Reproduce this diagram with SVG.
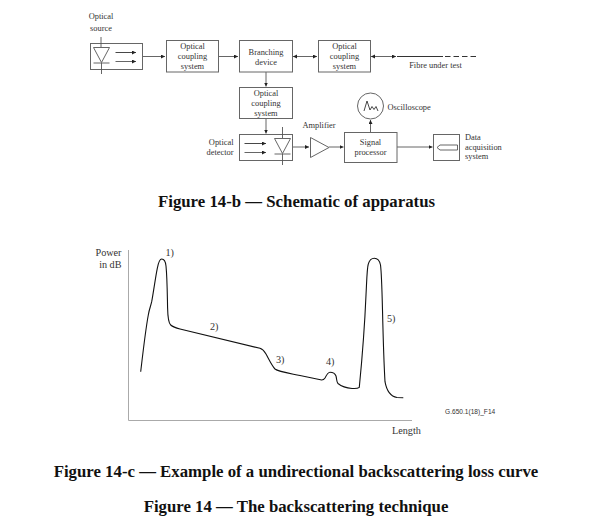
<svg xmlns="http://www.w3.org/2000/svg" width="600" height="525" viewBox="0 0 600 525">
<style>
text{font-family:"Liberation Serif","Times New Roman",serif;fill:#333}
.s{font-size:8.4px}
.c{text-anchor:middle}
.e{text-anchor:end}
.cap{font-size:16.8px;font-weight:bold;text-anchor:middle;fill:#111}
.box{fill:#fff;stroke:#666;stroke-width:1}
.ln{fill:none;stroke:#555;stroke-width:.9}
.th{fill:none;stroke:#333;stroke-width:.9}
.ax{fill:none;stroke:#aaa;stroke-width:1}
.cv{fill:none;stroke:#111;stroke-width:1.1;stroke-linejoin:round}
.l{font-size:10.2px}
</style>
<defs>
<marker id="a" markerUnits="userSpaceOnUse" markerWidth="5" markerHeight="5" refX="4" refY="2" orient="auto-start-reverse"><path d="M0,0L4,2L0,4Z" fill="#222"/></marker>
</defs>
<rect width="600" height="525" fill="#fff"/>
<g id="connectors">
<path class="ln" d="M143,56.5H165" marker-end="url(#a)"/>
<path class="ln" d="M218.500,56.500H238" marker-end="url(#a)"/>
<path class="ln" d="M293,56.500H317" marker-start="url(#a)" marker-end="url(#a)"/>
<path class="ln" d="M371,56.500H396" marker-start="url(#a)" marker-end="url(#a)"/>
<path d="M397,56.500H443" fill="none" stroke="#333" stroke-width="1"/>
<path d="M445,56.500H476" fill="none" stroke="#333" stroke-width="1" stroke-dasharray="5.500 3"/>
<path class="ln" d="M266,72V86.500" marker-end="url(#a)"/>
<path class="ln" d="M266,119V133.500" marker-end="url(#a)"/>
<path class="ln" d="M293,147H309" marker-end="url(#a)"/>
<path class="ln" d="M329,147H343.500" marker-end="url(#a)"/>
<path class="ln" d="M370.500,132V120" marker-end="url(#a)"/>
<path class="ln" d="M397,147H432.500" marker-end="url(#a)"/>
</g>
<g id="optical-source">
<rect class="box" x="90.500" y="43.500" width="52" height="26"/>
<path class="ln" d="M101,37V47M93.500,47.500H109.500L101.500,62.500ZM93.500,63H109.500M101.500,63V74"/>
<path class="th" d="M115.500,52.500H136" marker-end="url(#a)"/>
<path class="ln" d="M115.500,61.500H136" marker-end="url(#a)"/>
<text class="s c" x="101" y="19">Optical</text>
<text class="s c" x="101" y="31">source</text>
</g>
<g id="coupling-1">
<rect class="box" x="166.500" y="40.500" width="52" height="31.500"/>
<text class="s c" x="192.500" y="49">Optical</text>
<text class="s c" x="192.500" y="59">coupling</text>
<text class="s c" x="192.500" y="68.500">system</text>
</g>
<g id="branching-device">
<rect class="box" x="239.500" y="40.500" width="53" height="31.500"/>
<text class="s c" x="266" y="55">Branching</text>
<text class="s c" x="266" y="64.500">device</text>
</g>
<g id="coupling-3">
<rect class="box" x="318.500" y="40.500" width="52" height="31.500"/>
<text class="s c" x="344.500" y="49">Optical</text>
<text class="s c" x="344.500" y="59">coupling</text>
<text class="s c" x="344.500" y="68.500">system</text>
</g>
<g id="fibre-label"><text class="s c" x="435.500" y="68">Fibre under test</text></g>
<g id="coupling-2">
<rect class="box" x="239.500" y="87.500" width="53" height="31"/>
<text class="s c" x="266" y="96">Optical</text>
<text class="s c" x="266" y="106">coupling</text>
<text class="s c" x="266" y="115.500">system</text>
</g>
<g id="optical-detector">
<rect class="box" x="239.500" y="134.500" width="53" height="26"/>
<path class="th" d="M244.500,143.500H266" marker-end="url(#a)"/>
<path class="ln" d="M244.500,152.500H266" marker-end="url(#a)"/>
<path class="ln" d="M282.500,127V138M274.500,138.500H290.500L282.500,153.500ZM274.500,154H290.500M282.500,154V165"/>
<text class="s e" x="233.500" y="145">Optical</text>
<text class="s e" x="233.500" y="155">detector</text>
</g>
<g id="amplifier">
<path class="box" d="M310.500,137.500L329,147.500L310.500,157.500Z"/>
<text class="s c" x="319" y="127.500">Amplifier</text>
</g>
<g id="signal-processor">
<rect class="box" x="344.500" y="132.500" width="52.500" height="30"/>
<text class="s c" x="370.500" y="144.500">Signal</text>
<text class="s c" x="370.500" y="154.500">processor</text>
</g>
<g id="oscilloscope">
<circle class="ln" cx="370.500" cy="106" r="13"/>
<path class="th" d="M364,111L367,101L370,110L372,106.500L374,109.500L376,106.500L378,111"/>
<text class="s" x="387.500" y="109.500">Oscilloscope</text>
</g>
<g id="data-acquisition">
<rect class="box" x="433.500" y="134.500" width="26" height="26"/>
<path class="ln" d="M437,147.500L440,145H457.500V150H440Z"/>
<text class="s" x="465" y="139.500">Data</text>
<text class="s" x="465" y="149.500">acquisition</text>
<text class="s" x="465" y="159">system</text>
</g>
<g id="captions">
<text class="cap" x="296.500" y="207">Figure 14-b — Schematic of apparatus</text>
<text class="cap" x="296" y="477">Figure 14-c — Example of a undirectional backscattering loss curve</text>
<text class="cap" x="296" y="512">Figure 14 — The backscattering technique</text>
</g>
<g id="chart">
<path class="ax" d="M128.500,250V420.500H412"/>
<path class="cv" d="M140.700,371.700C143,352 145.500,330 148.300,315C149.500,308 150.500,307 151.700,301.700C153.500,292 155.500,277 157.300,268.300C158.500,262 160,259 161.700,259C164,259 165.500,261 166,266C167.200,278 167.300,295 167.600,308C167.800,318 168.500,323 170.700,325C173,327 176,328 180,329L260,348.300C263,349.300 264.500,351.500 266,354C269,359.500 272,366 275,369C278,371.500 285,372.500 300,375.500L321.700,380C323.500,380 324,379.500 325,378C326.500,375 328,372.300 330,372.300C333,372.300 335,373.500 336,376C337,380 336.500,382 338,383.500C341,386 345,388 352,388.500C355,388.700 358,388.500 359.300,387.300C361,370 364.500,330 366,295C366.800,280 367,268 368.300,264C369.500,260 371,258.300 374.300,258.300C377.500,258.300 379.500,260 380.500,265C381.500,272 382,290 382.500,310C383.200,340 384,365 385,381.700C386.500,390 390,396.500 397,397.500L403.300,397.700"/>
<text class="l e" x="121.500" y="256">Power</text>
<text class="l e" x="121.500" y="268">in dB</text>
<text class="l" x="165.500" y="255.500">1)</text>
<text class="l" x="210" y="330">2)</text>
<text class="l" x="276" y="363">3)</text>
<text class="l" x="326" y="365">4)</text>
<text class="l" x="387" y="322">5)</text>
<text class="l" x="392" y="434">Length</text>
<text x="445" y="414" style="font-family:'Liberation Sans',Arial,sans-serif;font-size:6.600px">G.650.1(18)_F14</text>
</g>
</svg>
